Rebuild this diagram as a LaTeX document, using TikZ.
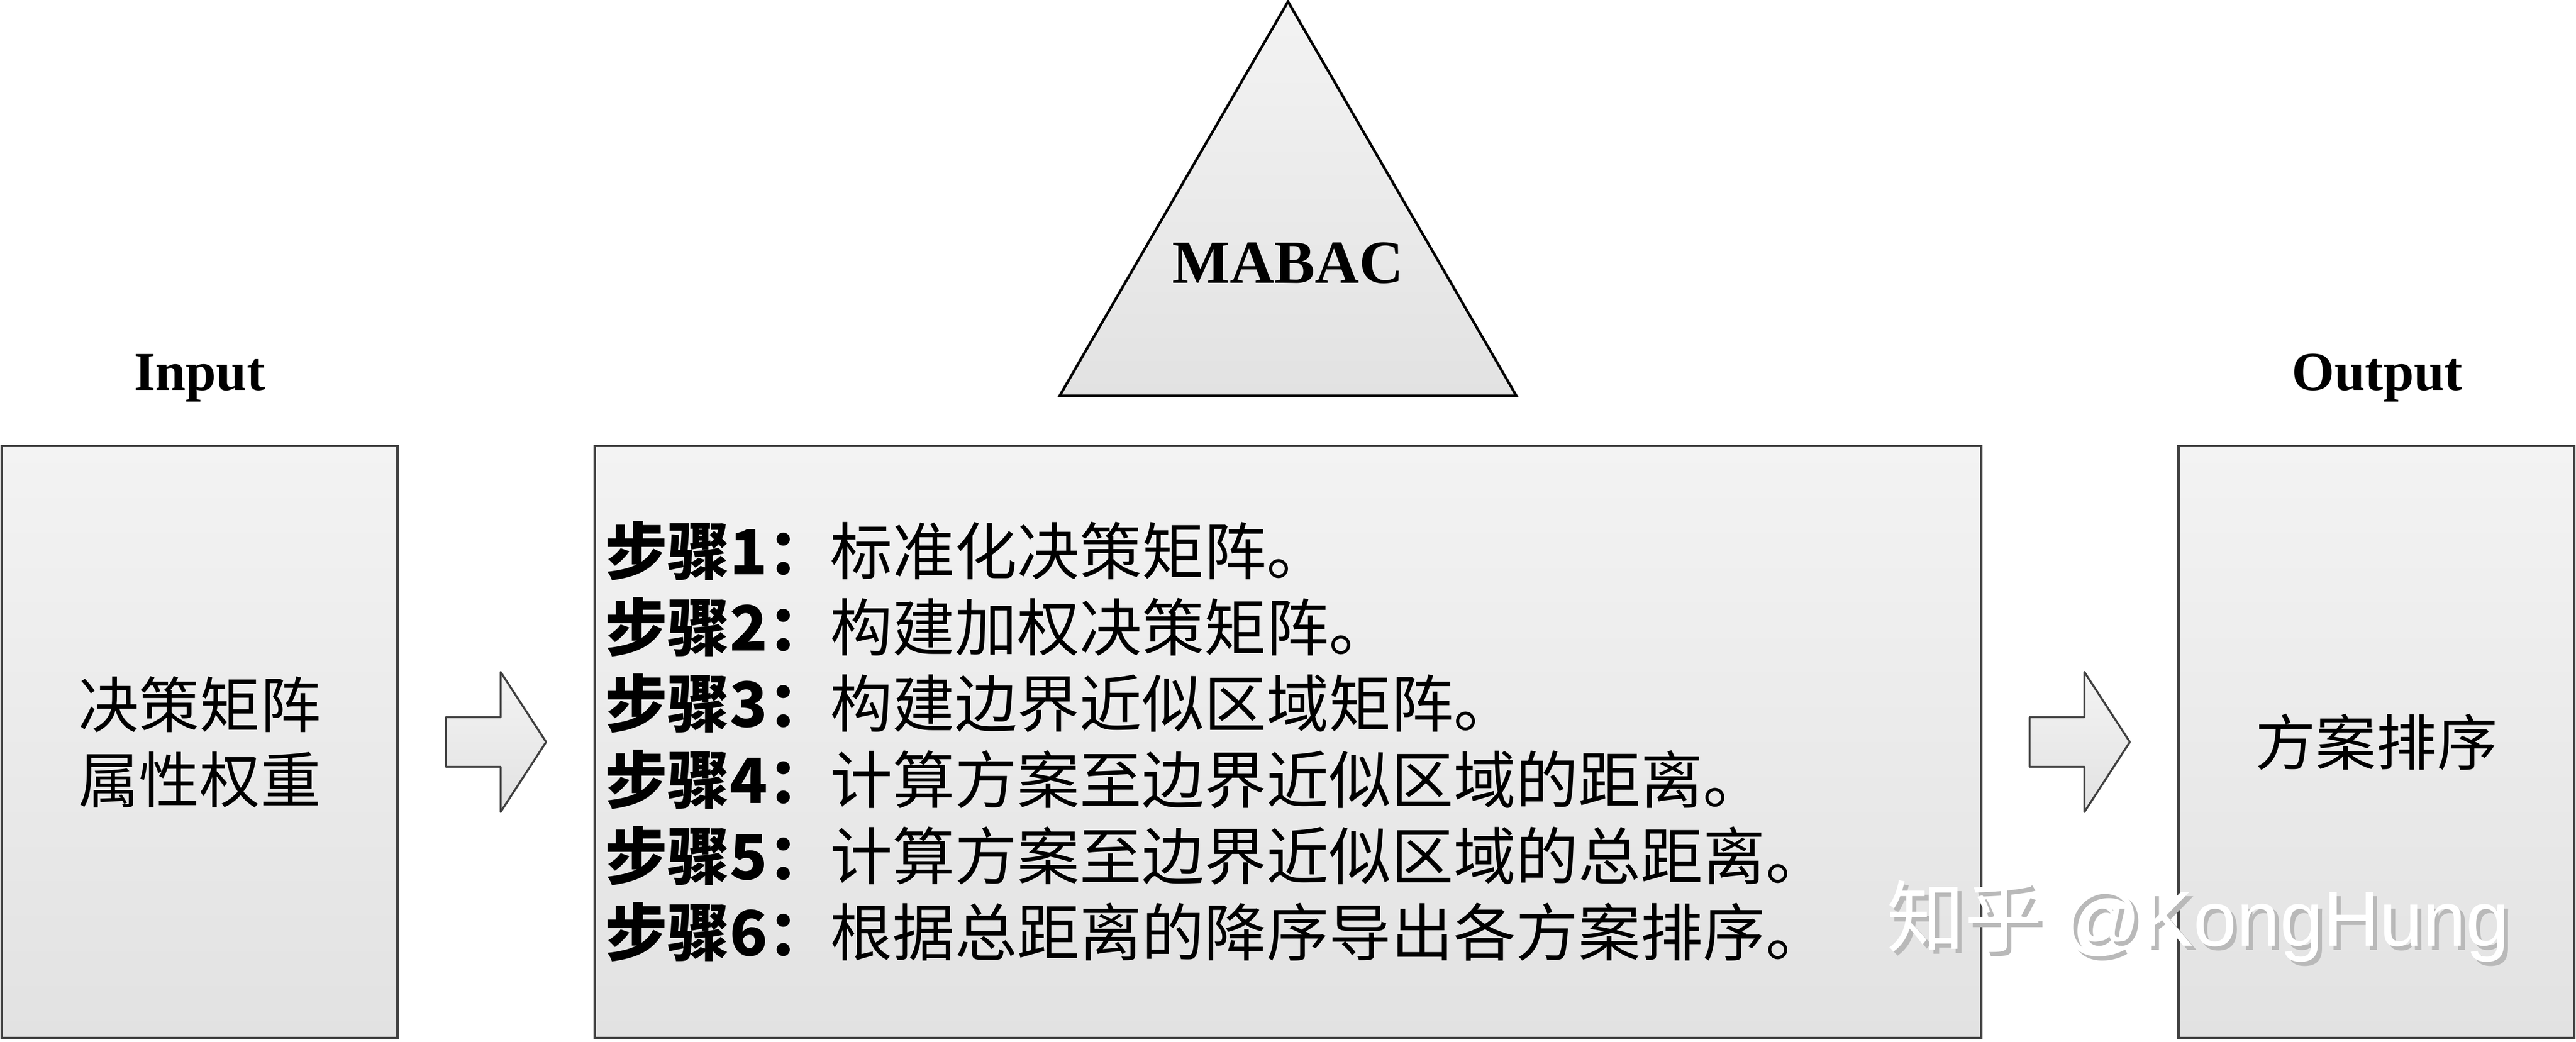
\documentclass[tikz,border=0pt]{standalone}
\usepackage{fontspec}
\setmainfont{Liberation Serif}
\newfontfamily\cjk{Noto Sans CJK SC}
\newfontfamily\wmsans{Liberation Sans}
\usetikzlibrary{shapes.arrows,calc}
\definecolor{paneltop}{RGB}{243,243,243}
\definecolor{panelbottom}{RGB}{226,226,226}
\definecolor{paneledge}{RGB}{64,64,64}

\begin{document}
\begin{tikzpicture}[
    panel/.style={rectangle, draw=paneledge, line width=0.8pt, top color=paneltop, bottom color=panelbottom, minimum width=4.82cm, minimum height=7.21cm, inner sep=0pt},
    heading/.style={font=\bfseries\fontsize{19}{23}\selectfont, anchor=base},
    flowarrow/.style={single arrow, draw=paneledge, line width=0.7pt, line join=round, top color=paneltop, bottom color=panelbottom, minimum height=1.22cm, inner xsep=0pt, inner ysep=0.29cm, single arrow head extend=0.55cm, single arrow tip angle=114, xshift=-0.1cm}
]
    \useasboundingbox (0,0) rectangle (31.36,12.688);

                \node[panel, font=\cjk\fontsize{21}{26}\selectfont, align=center] (inbox) at (2.43,3.653) {决策矩阵\\属性权重};
                \node[panel, minimum width=16.88cm] (stepbox) at (15.68,3.653) {};
                \node[panel, font=\cjk\fontsize{21}{26}\selectfont] (outbox) at (28.93,3.653) {方案排序};

                \node[heading] (intitle) at (2.43,7.934) {Input};
                \node[heading] (outtitle) at (28.94,7.934) {Output};

                % MABAC triangle
                \coordinate (apex) at (15.68,12.668);
                \coordinate (baseleft) at (12.9,7.868);
                \coordinate (baseright) at (18.46,7.868);
                \draw[black, line width=0.9pt, top color=paneltop, bottom color=panelbottom] (baseleft) -- (apex) -- (baseright) -- cycle;
                \node[font=\bfseries\fontsize{21.2}{25}\selectfont] (mabac) at (15.68,9.486) {MABAC};

                \node[anchor=west, align=left, inner sep=0pt, font=\cjk\fontsize{21.6}{26.4}\selectfont] (steps) at (7.36,3.658) {%
                    \textbf{步骤1：}标准化决策矩阵。\\
                    \textbf{步骤2：}构建加权决策矩阵。\\
                    \textbf{步骤3：}构建边界近似区域矩阵。\\
                    \textbf{步骤4：}计算方案至边界近似区域的距离。\\
                    \textbf{步骤5：}计算方案至边界近似区域的总距离。\\
                    \textbf{步骤6：}根据总距离的降序导出各方案排序。};

                \node[flowarrow] (arrowin) at ($(inbox.east)!0.5!(stepbox.west)$) {};
                \node[flowarrow] (arrowout) at ($(stepbox.east)!0.5!(outbox.west)$) {};

                \node[text=gray!55, font=\fontsize{27}{30}\selectfont] (wmshadow) at (26.81,1.418) {{\cjk 知乎} {\wmsans @KongHung}};
                \node[text=white, font=\fontsize{27}{30}\selectfont] (wm) at (26.76,1.468) {{\cjk 知乎} {\wmsans @KongHung}};

            \end{tikzpicture}
\end{document}
